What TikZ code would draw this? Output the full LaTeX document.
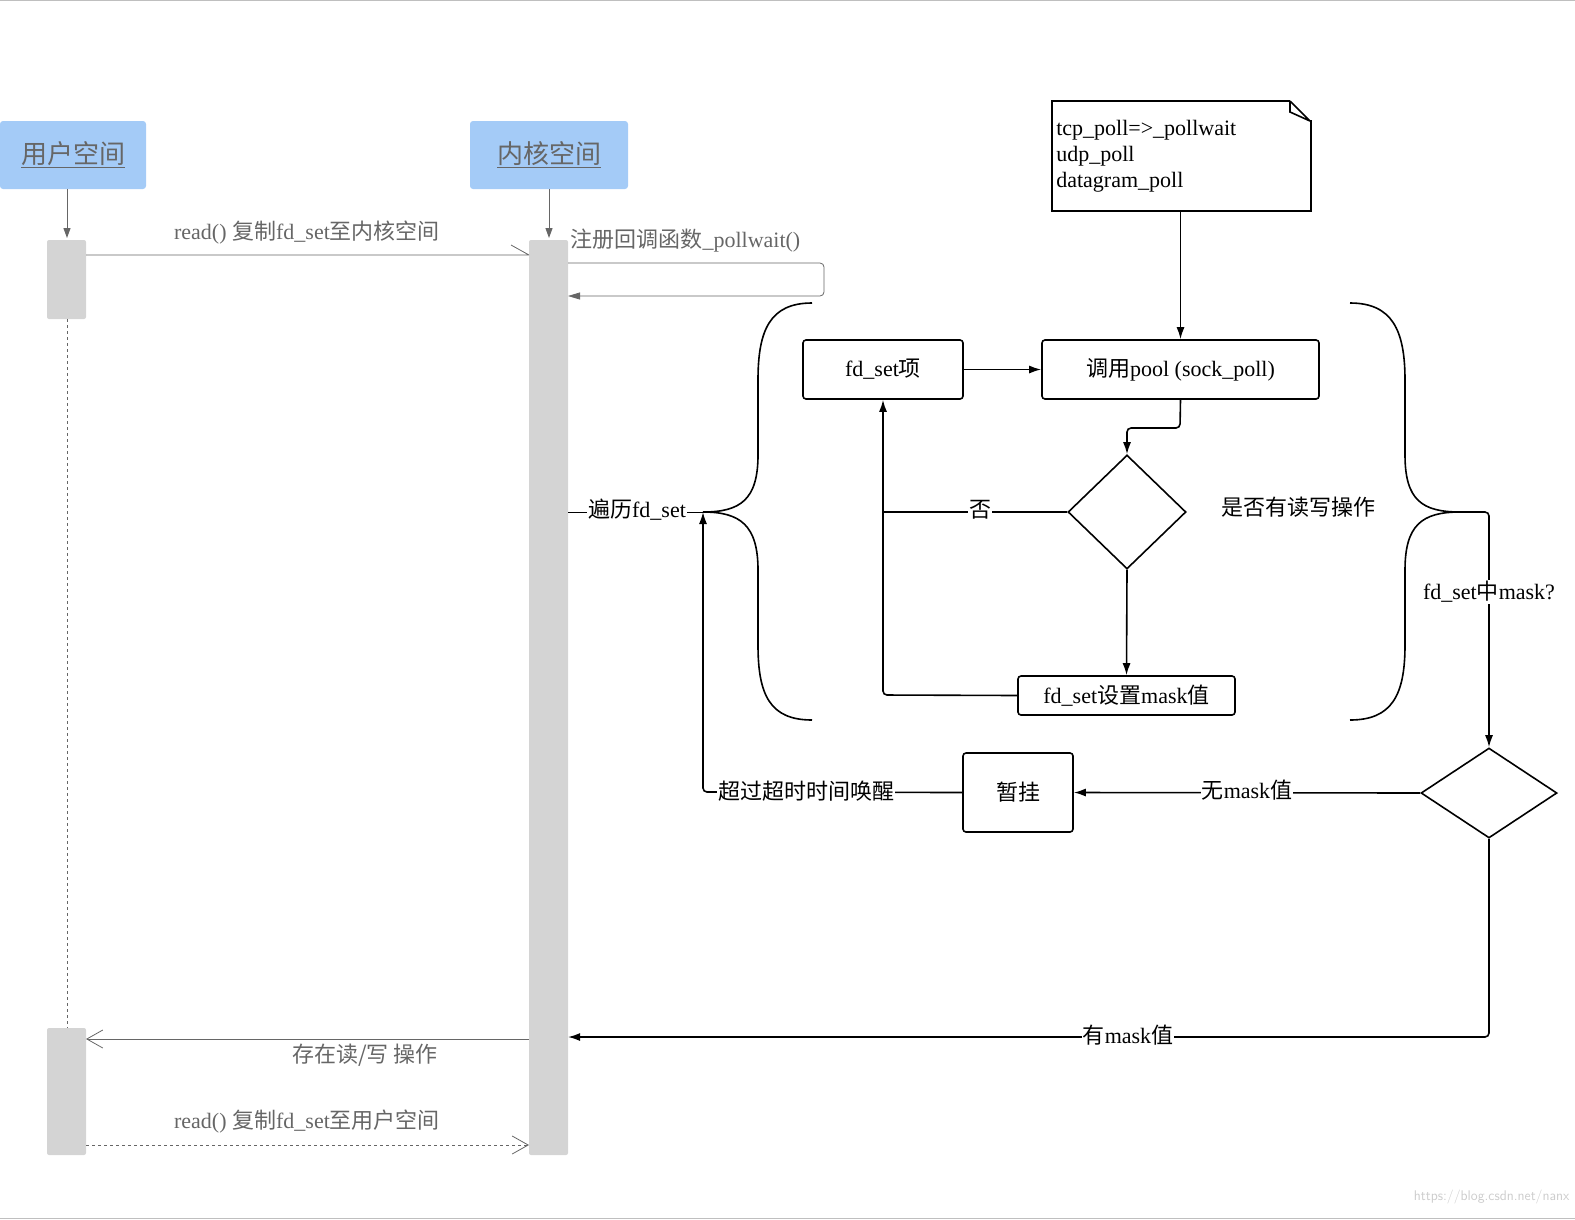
\documentclass[tikz,border=0pt]{standalone}
\usepackage{fontspec}
\setmainfont{Liberation Serif}
\newfontfamily\cjk{Noto Sans CJK SC}
\usetikzlibrary{arrows.meta,shapes.geometric}
\definecolor{hdr}{HTML}{A4CBF7}
\definecolor{bar}{HTML}{D4D4D4}
\definecolor{sq}{HTML}{666666}
\begin{document}
\begin{tikzpicture}[x=1pt,y=-1pt,
  fnt/.style={font=\fontsize{22}{26}\selectfont},
  box/.style={draw,line width=1.6pt,rounded corners=3pt,fnt,inner sep=0pt},
  flow/.style={line width=1.6pt,-{Latex[length=12pt,width=8pt]},rounded corners=4pt},
  fl/.style={line width=1.6pt,rounded corners=4pt},
  bar/.style={fill=bar,rounded corners=2pt},
  hdr/.style={fill=hdr,rounded corners=3pt,text=sq,font=\fontsize{26}{30}\selectfont\cjk},
  sqt/.style={text=sq,fnt},
  lbl/.style={fill=white,fnt,inner sep=1pt},
  dia/.style={draw,line width=1.6pt,diamond,inner sep=0pt}]
\useasboundingbox (0,0) rectangle (1575,1219);
\draw[black!25] (0,0.5)--(1575,0.5) (0,1218.5)--(1575,1218.5);
% headers
\node[hdr,minimum width=146pt,minimum height=68pt] (hu) at (73,155) {\underline{用户空间}};
\node[hdr,minimum width=158pt,minimum height=68pt] (hk) at (549,155) {\underline{内核空间}};
% bars
\node[bar,minimum width=39pt,minimum height=79pt] (b1) at (66.5,279.5) {};
\node[bar,minimum width=39pt,minimum height=127pt] (b2) at (66.5,1091.5) {};
\node[bar,minimum width=39pt,minimum height=915pt] (bk) at (548.5,697.5) {};
\draw[sq,line width=1pt,-{Triangle[length=10pt,width=7pt]}] (67,189)--(67,238);
\draw[sq,line width=1pt,-{Triangle[length=10pt,width=7pt]}] (549,189)--(549,238);
\draw[sq,dashed,line width=0.8pt] (67,319)--(67,1028);
% messages
\coordinate (m1a) at (86,255); \coordinate (m1b) at (529,255);
\draw[sq,line width=0.8pt] (m1a)--(m1b) (m1b)--++(-18,-10);
\node[sqt] (t1) at (307,233) {read() {\cjk 复制}fd\_set{\cjk 至内核空间}};
\coordinate (s1) at (568,263); \coordinate (s2) at (568,296);
\draw[sq,line width=0.8pt,rounded corners=4pt,-{Triangle[length=12pt,width=7pt]}] (s1)--(824,263)--(824,296)--(s2);
\node[sqt,anchor=west] (t2) at (567,241) {{\cjk 注册回调函数}\_pollwait()};
\coordinate (r1) at (529,1039); \coordinate (r2) at (86,1039);
\draw[sq,line width=0.8pt,-{Straight Barb[length=16pt,width=18pt]}] (r1)--(r2);
\node[sqt] (t3) at (365,1055) {\cjk 存在读/写 操作};
\coordinate (d1) at (86,1145); \coordinate (d2) at (529,1145);
\draw[sq,dashed,line width=0.8pt,-{Straight Barb[length=16pt,width=18pt]}] (d1)--(d2);
\node[sqt] (t4) at (307,1122) {read() {\cjk 复制}fd\_set{\cjk 至用户空间}};
% braces
\coordinate (lt) at (703,512); \coordinate (rt) at (1460,512);
\draw[line width=1.6pt] (812,303) .. controls (770,303) and (758,330) .. (758,380) -- (758,455) .. controls (758,500) and (740,512) .. (lt)
 .. controls (740,512) and (758,525) .. (758,570) -- (758,645) .. controls (758,695) and (770,720) .. (812,720);
\draw[line width=1.6pt] (1350,303) .. controls (1392,303) and (1405,330) .. (1405,380) -- (1405,455) .. controls (1405,500) and (1422,512) .. (rt)
 .. controls (1422,512) and (1405,525) .. (1405,570) -- (1405,645) .. controls (1405,695) and (1392,720) .. (1350,720);
\draw[line width=1pt] (568,512)--(lt);
\node[lbl] (t5) at (637,510) {{\cjk 遍历}fd\_set};
% flow boxes
\node[draw,line width=1.6pt,fnt,align=left,anchor=north west,minimum width=259pt,minimum height=110pt,text width=250pt,inner sep=4pt] (note) at (1051,100) {tcp\_poll=>\_pollwait\\udp\_poll\\datagram\_poll};
\fill[white] (1290,99) rectangle (1312,120);
\draw[line width=1.6pt] (1290,101)--(1310,121) (1290,101)--(1290,112)--(1310,121);
\node[box,minimum width=160pt,minimum height=59pt] (fs) at (883,369.5) {fd\_set{\cjk 项}};
\node[box,minimum width=277pt,minimum height=59pt] (pl) at (1180.5,369.5) {{\cjk 调用}pool (sock\_poll)};
\node[dia,minimum width=118pt,minimum height=114pt] (q1) at (1127,512) {};
\node[fnt] (t6) at (1298,507) {\cjk 是否有读写操作};
\node[box,minimum width=217pt,minimum height=39pt] (ms) at (1126.5,695.5) {fd\_set{\cjk 设置}mask{\cjk 值}};
\node[box,minimum width=110pt,minimum height=79pt] (zg) at (1018,792.5) {\cjk 暂挂};
\node[dia,minimum width=136pt,minimum height=90pt] (q2) at (1489,793) {};
\draw[flow] (note.south -| pl.north)--(pl.north);
\draw[flow] (fs)--(pl);
\draw[flow] (pl.south)--(1180,428)--(1127,428)--(q1.north);
\draw[fl] (q1.west)--(883,512);
\node[lbl] (t7) at (980,510) {\cjk 否};
\draw[flow] (ms.west)--(883,695)--(fs.south);
\draw[flow] (q1.south)--(ms.north);
\draw[flow] (rt)--(1489,512)--(q2.north);
\node[lbl] (t8) at (1489,592) {fd\_set{\cjk 中}mask?};
\draw[flow] (q2.west)--(zg.east);
\node[lbl] (t9) at (1247,790) {{\cjk 无}mask{\cjk 值}};
\draw[flow] (zg.west)--(703,792)--(lt);
\node[lbl] (t10) at (806,791) {\cjk 超过超时时间唤醒};
\draw[flow] (q2.south)--(1489,1037)--(568,1037);
\node[lbl] (t11) at (1128,1035) {{\cjk 有}mask{\cjk 值}};
\node[text=black!20,font=\fontsize{14}{16}\selectfont\sffamily,anchor=east] (wm) at (1573,1197) {https://blog.csdn.net/nanx};
\end{tikzpicture}
\end{document}
